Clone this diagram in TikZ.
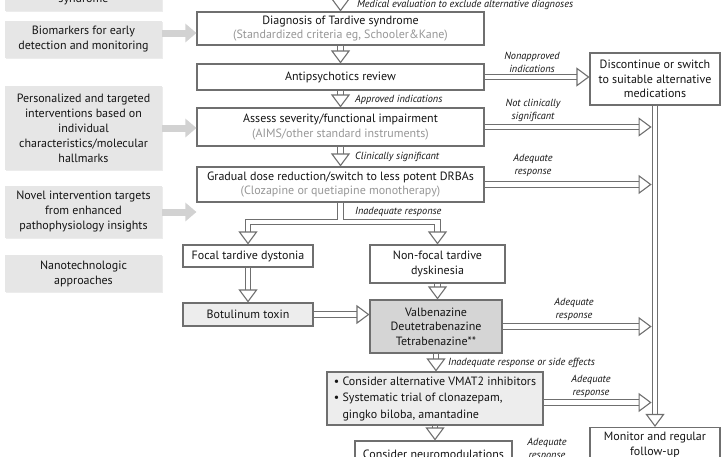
\documentclass[tikz,border=0pt]{standalone}
\usepackage{fontspec}
\setmainfont{PT Sans}
\usetikzlibrary{arrows.meta,shadows}
\definecolor{edge}{HTML}{6F6F6F}
\definecolor{ink}{HTML}{141414}
\definecolor{subtext}{HTML}{979797}
\definecolor{sidefill}{HTML}{E6E6E6}
\definecolor{sidearrow}{HTML}{D2D2D2}
\definecolor{lightfill}{HTML}{EDEDED}
\definecolor{drugfill}{HTML}{D5D5D5}
\begin{document}
\begin{tikzpicture}[x=1pt, y=-1pt,
    box/.style={draw=edge, line width=1.1pt, fill=white, text=ink, align=center,
        inner sep=1pt, font=\fontsize{12}{14.5}\selectfont,
        drop shadow={shadow xshift=1.2pt, shadow yshift=-1.2pt, opacity=.3}},
    side/.style={fill=sidefill, text=ink, align=center, inner sep=1pt,
        minimum width=157pt, font=\fontsize{12}{15}\selectfont,
        drop shadow={shadow xshift=1.2pt, shadow yshift=-1.2pt, opacity=.15}},
    lbl/.style={text=ink, align=center, inner sep=0pt, font=\fontsize{10.3}{13}\selectfont\itshape},
    flowline/.style={draw=edge, line width=1.1pt, double=white, double distance=4.5pt},
    flow/.style={flowline, -{Triangle[open, length=13pt, width=19pt, line width=1.1pt]}},
    feed/.style={draw=sidearrow, line width=7pt, -{Triangle[length=11pt, width=18pt]}}]
    \useasboundingbox (0,0) rectangle (724,456);
    % Side column
    \node[side, minimum height=22pt] (syn) at (83.5,0) {syndrome};
    \node[side, minimum height=37pt] (bio) at (83.5,39.5) {Biomarkers for early\\detection and monitoring};
    \node[side, minimum height=84pt] (pers) at (83.5,128) {Personalized and targeted\\interventions based on\\individual\\characteristics/molecular\\hallmarks};
    \node[side, minimum height=52pt] (novel) at (83.5,212) {Novel intervention targets\\from enhanced\\pathophysiology insights};
    \node[side, minimum height=37pt] (nano) at (83.5,273.5) {Nanotechnologic\\approaches};
    % Main column
    \node[box, minimum width=287pt, minimum height=33pt] (diag) at (340.5,28.5) {Diagnosis of Tardive syndrome\\\textcolor{subtext}{(Standardized criteria eg, Schooler\&Kane)}};
    \node[box, minimum width=287pt, minimum height=26pt] (anti) at (340.5,77) {Antipsychotics review};
    \node[box, minimum width=287pt, minimum height=38pt] (assess) at (340.5,127) {Assess severity/functional impairment\\\textcolor{subtext}{(AIMS/other standard instruments)}};
    \node[box, minimum width=287pt, minimum height=35pt] (gradual) at (340.5,184.5) {Gradual dose reduction/switch to less potent DRBAs\\\textcolor{subtext}{(Clozapine or quetiapine monotherapy)}};
    % Branches
    \node[box, minimum width=130pt, minimum height=22pt] (focal) at (248,256) {Focal tardive dystonia};
    \node[box, minimum width=135pt, minimum height=38pt] (nonfocal) at (437.5,264) {Non-focal tardive\\dyskinesia};
    \node[box, fill=lightfill, minimum width=130pt, minimum height=23pt] (botu) at (248,314.5) {Botulinum toxin};
    \node[box, fill=drugfill, minimum width=132pt, minimum height=53pt] (vmat) at (436,326.5) {Valbenazine\\Deutetrabenazine\\Tetrabenazine**};
    \node[box, fill=lightfill, align=left, minimum width=216pt, minimum height=53pt,
        font=\fontsize{12}{16.5}\selectfont] (alt) at (435,398.5)
        {\textbullet\ Consider alternative VMAT2 inhibitors\\\textbullet\ Systematic trial of clonazepam,\\\phantom{\textbullet\ }gingko biloba, amantadine};
    \node[box, minimum width=157pt, minimum height=26pt] (neuro) at (433.5,454) {Consider neuromodulations};
    % Right column
    \node[box, minimum width=130pt, minimum height=52pt] (disc) at (655,79) {Discontinue or switch\\to suitable alternative\\medications};
    \node[box, minimum width=130pt, minimum height=35pt] (monitor) at (655,445) {Monitor and regular\\follow-up};
    % Side feeds
    \draw[feed] ([yshift=6.5pt]bio.east) -- ([yshift=6.5pt]bio.east -| diag.west);
    \draw[feed] (pers.east) -- (pers.east -| assess.west);
    \draw[feed] (novel.east) -- (novel.east -| gradual.west);
    % Main flow
    \coordinate (entry) at (340.5,-8);
    \draw[flow] (entry) -- (diag.north);
    \draw[flow] (diag.south) -- (anti.north);
    \draw[flow] (anti.south) -- (assess.north);
    \draw[flow] (assess.south) -- (gradual.north);
    \coordinate (split) at (340.5,222);
    \draw[flowline, {Triangle[open, length=13pt, width=19pt, line width=1.1pt]}-{Triangle[open, length=13pt, width=19pt, line width=1.1pt]}]
        (focal.north) |- (split) -| (nonfocal.north);
    \draw[flowline] (gradual.south) -- ([yshift=2.25pt]split);
    \draw[flow] (focal.south) -- (botu.north);
    \draw[flow] (nonfocal.south) -- (nonfocal.south |- vmat.north);
    \draw[flow] (botu.east) -- (botu.east -| vmat.west);
    \draw[flow] (vmat.south) -- (vmat.south |- alt.north);
    \draw[flow] (alt.south) -- (alt.south |- neuro.north);
    % To the right column
    \coordinate (lane) at (651.6,0);
    \draw[flow] (disc.south) -- (monitor.north);
    \draw[flow] (anti.east) -- (anti.east -| disc.west);
    \draw[flow] (assess.east) -- (assess.east -| lane);
    \draw[flow] (gradual.east) -- (gradual.east -| lane);
    \draw[flow] (vmat.east) -- (vmat.east -| lane);
    \draw[flow] ([yshift=-4pt]alt.east) -- ([yshift=-4pt]alt.east -| lane);
    % Labels
    \node[lbl, anchor=west] (lmed) at (357,5) {Medical evaluation to exclude alternative diagnoses};
    \node[lbl, anchor=west] (lapp) at (355,100) {Approved indications};
    \node[lbl, anchor=west] (lsig) at (355,157) {Clinically significant};
    \node[lbl, anchor=west] (linad) at (355,212) {Inadequate response};
    \node[lbl] (lnon) at (532,62) {Nonapproved\\indications};
    \node[lbl] (lnot) at (533,110) {Not clinically\\significant};
    \node[lbl] (lade1) at (533,165.5) {Adequate\\response};
    \node[lbl] (lade2) at (574,309.5) {Adequate\\response};
    \node[lbl, anchor=west] (lside) at (448,363) {Inadequate response or side effects};
    \node[lbl] (lade3) at (591,386.5) {Adequate\\response};
    \node[lbl] (lade4) at (547,449) {Adequate\\response};
\end{tikzpicture}
\end{document}
